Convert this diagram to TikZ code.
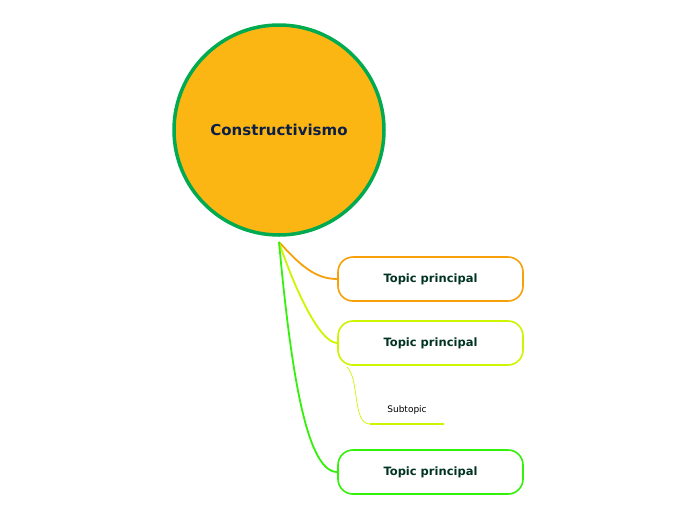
\documentclass[tikz,border=0pt]{standalone}
\usepackage{fontspec}
\setmainfont{DejaVu Sans}
\begin{document}
\begin{tikzpicture}[x=1pt,y=-1pt,
  topic/.style={draw,line width=1.6pt,rounded corners=15pt,minimum width=185pt,minimum height=44pt,fill=white,text=textc,font=\bfseries\fontsize{11.5}{13}\selectfont},
  conn/.style={line width=1.8pt}]
\definecolor{orangec}{HTML}{F7A00A}
\definecolor{yelc}{HTML}{CCF500}
\definecolor{greenc}{HTML}{33F20A}
\definecolor{textc}{HTML}{003322}
\useasboundingbox (0,0) rectangle (696,520);
\node[circle,draw=green!60!black!80!cyan,draw={rgb,255:red,0;green,170;blue,80},line width=3.5pt,fill={rgb,255:red,251;green,182;blue,20},minimum size=210pt,text={rgb,255:red,10;green,30;blue,70},font=\bfseries\fontsize{15}{18}\selectfont] (c) at (279,130) {Constructivismo};
\coordinate (s) at (279,242);
\node[topic,draw=orangec] (t1) at (430.5,279) {Topic principal};
\node[topic,draw=yelc] (t2) at (430.5,343) {Topic principal};
\node[topic,draw=greenc] (t3) at (430.5,472) {Topic principal};
\draw[conn,orangec] (s) .. controls (300,265) and (315,279) .. (t1.west);
\draw[conn,yelc] (s) .. controls (295,290) and (320,343) .. (t2.west);
\draw[conn,greenc] (s) .. controls (290,360) and (305,472) .. (t3.west);
\node[font=\fontsize{9}{11}\selectfont] (st) at (407,410) {Subtopic};
\coordinate (u1) at (370,424); \coordinate (u2) at (444,424);
\draw[yelc,line width=2.5pt] (u1) -- (u2);
\coordinate (b) at (347,367);
\draw[yelc,line width=0.7pt] (b) .. controls (360,380) and (352,424) .. (u1);
\end{tikzpicture}
\end{document}
